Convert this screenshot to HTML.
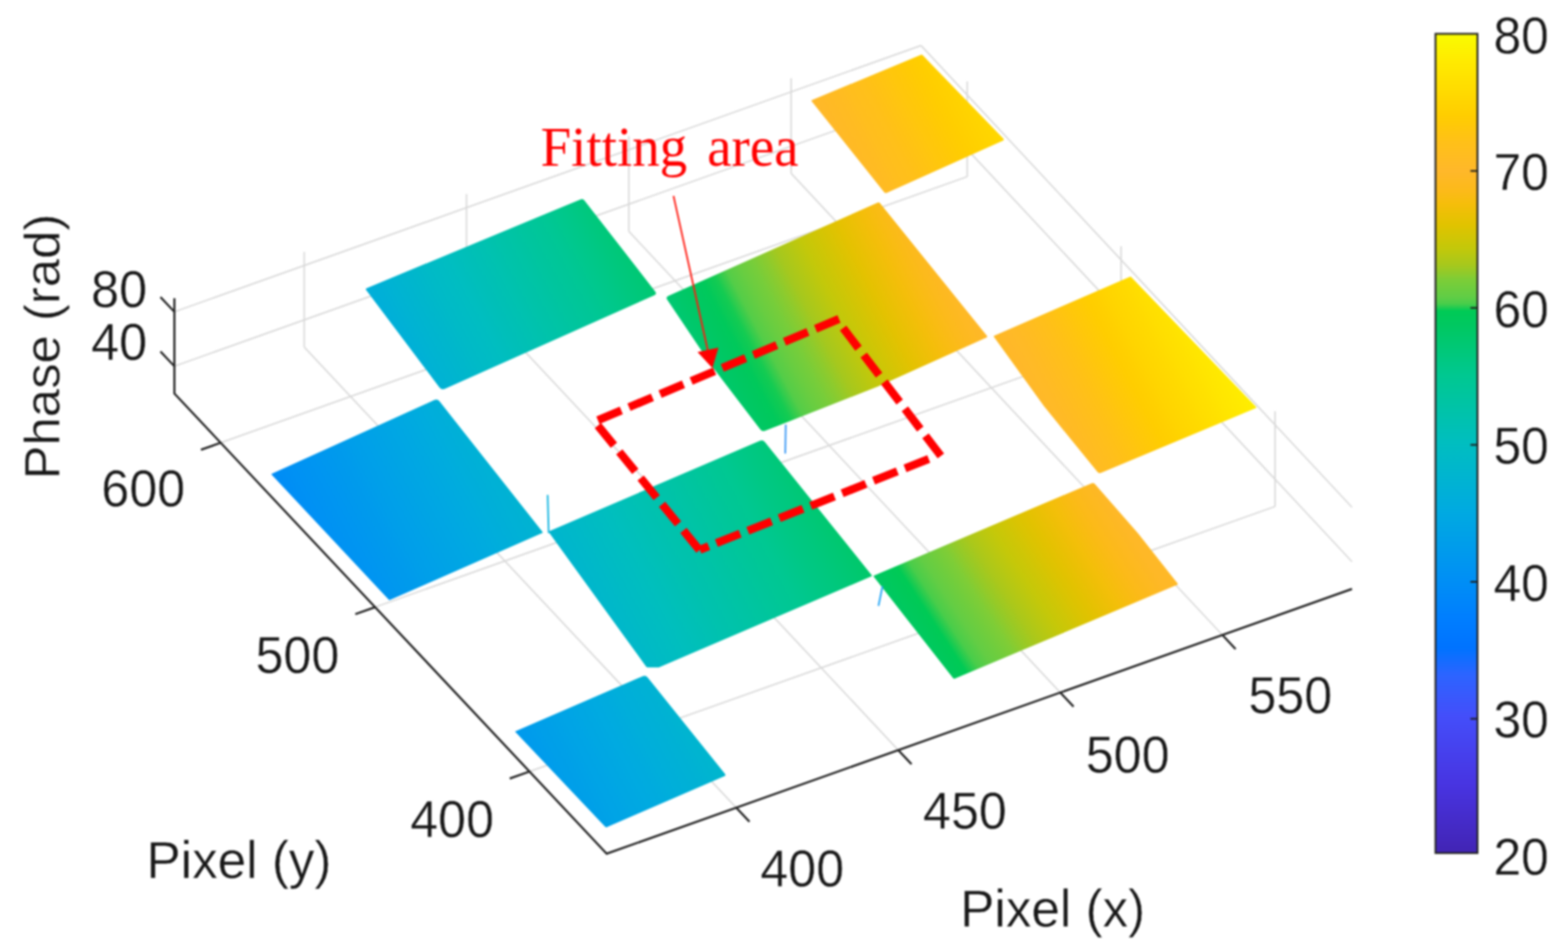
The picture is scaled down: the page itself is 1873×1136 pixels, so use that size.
<!DOCTYPE html>
<html lang="en"><head><meta charset="utf-8"><title>Phase map with fitting area</title>
<style>
html,body{margin:0;padding:0;background:#fff;}
body{width:1873px;height:1136px;overflow:hidden;}
svg{display:block;filter:blur(1px);}
.g{stroke:#d9d9d9;stroke-width:1.8;fill:none;}
.ax{stroke:#222222;stroke-width:2.5;fill:none;stroke-linecap:butt;}
.t{font-family:"Liberation Sans",Arial,Helvetica,sans-serif;font-size:60px;fill:#181818;stroke:#ffffff;stroke-width:0.45px;}
.fa{font-family:"Liberation Serif","Times New Roman",serif;font-size:65.6px;fill:#ff0000;}
</style></head><body>
<svg width="1873" height="1136" viewBox="0 0 1873 1136">
<defs>
<linearGradient id="p1" gradientUnits="userSpaceOnUse" x1="968.75" y1="120" x2="1130.488" y2="34.837">
<stop offset="0" stop-color="#ffb82a"/>
<stop offset="0.05" stop-color="#ffb928"/>
<stop offset="0.1" stop-color="#ffba25"/>
<stop offset="0.15" stop-color="#ffbb23"/>
<stop offset="0.2" stop-color="#ffbc21"/>
<stop offset="0.25" stop-color="#ffbe1e"/>
<stop offset="0.3" stop-color="#ffbf1c"/>
<stop offset="0.35" stop-color="#ffc01a"/>
<stop offset="0.4" stop-color="#ffc116"/>
<stop offset="0.45" stop-color="#ffc313"/>
<stop offset="0.5" stop-color="#ffc510"/>
<stop offset="0.55" stop-color="#ffc70c"/>
<stop offset="0.6" stop-color="#ffc809"/>
<stop offset="0.65" stop-color="#ffca05"/>
<stop offset="0.7" stop-color="#ffcc02"/>
<stop offset="0.75" stop-color="#ffce00"/>
<stop offset="0.8" stop-color="#ffd000"/>
<stop offset="0.85" stop-color="#ffd200"/>
<stop offset="0.9" stop-color="#ffd400"/>
<stop offset="0.95" stop-color="#ffd600"/>
<stop offset="1" stop-color="#ffd800"/>
</linearGradient>
<linearGradient id="p2" gradientUnits="userSpaceOnUse" x1="436.25" y1="345" x2="706.822" y2="202.529">
<stop offset="0" stop-color="#00aeda"/>
<stop offset="0.05" stop-color="#00b0d7"/>
<stop offset="0.1" stop-color="#00b3d3"/>
<stop offset="0.15" stop-color="#00b5cf"/>
<stop offset="0.2" stop-color="#00b7cb"/>
<stop offset="0.25" stop-color="#00bac7"/>
<stop offset="0.3" stop-color="#00bcc4"/>
<stop offset="0.35" stop-color="#00bec0"/>
<stop offset="0.4" stop-color="#00bfba"/>
<stop offset="0.45" stop-color="#00c0b5"/>
<stop offset="0.5" stop-color="#00c2b0"/>
<stop offset="0.55" stop-color="#00c3aa"/>
<stop offset="0.6" stop-color="#00c4a5"/>
<stop offset="0.65" stop-color="#00c59f"/>
<stop offset="0.7" stop-color="#00c69a"/>
<stop offset="0.75" stop-color="#00c795"/>
<stop offset="0.8" stop-color="#00c88e"/>
<stop offset="0.85" stop-color="#00c887"/>
<stop offset="0.9" stop-color="#00c87f"/>
<stop offset="0.95" stop-color="#00c878"/>
<stop offset="1" stop-color="#00c870"/>
</linearGradient>
<linearGradient id="p3" gradientUnits="userSpaceOnUse" x1="795" y1="355" x2="1076.952" y2="206.537">
<stop offset="0" stop-color="#00c873"/>
<stop offset="0.05" stop-color="#00c86a"/>
<stop offset="0.1" stop-color="#00c862"/>
<stop offset="0.15" stop-color="#00c95b"/>
<stop offset="0.2" stop-color="#14cb52"/>
<stop offset="0.25" stop-color="#54cd48"/>
<stop offset="0.3" stop-color="#68cd41"/>
<stop offset="0.35" stop-color="#77cd3a"/>
<stop offset="0.4" stop-color="#8ccb2e"/>
<stop offset="0.45" stop-color="#a5c81e"/>
<stop offset="0.5" stop-color="#b4c814"/>
<stop offset="0.55" stop-color="#c3c80a"/>
<stop offset="0.6" stop-color="#cec606"/>
<stop offset="0.65" stop-color="#d9c403"/>
<stop offset="0.7" stop-color="#e4c201"/>
<stop offset="0.75" stop-color="#ecc006"/>
<stop offset="0.8" stop-color="#f4be0a"/>
<stop offset="0.85" stop-color="#f9bc13"/>
<stop offset="0.9" stop-color="#fcba1c"/>
<stop offset="0.95" stop-color="#feb923"/>
<stop offset="1" stop-color="#ffb82a"/>
</linearGradient>
<linearGradient id="p4" gradientUnits="userSpaceOnUse" x1="1186.6" y1="401.5" x2="1397.898" y2="290.24">
<stop offset="0" stop-color="#feb924"/>
<stop offset="0.05" stop-color="#ffb829"/>
<stop offset="0.1" stop-color="#ffba27"/>
<stop offset="0.15" stop-color="#ffbb23"/>
<stop offset="0.2" stop-color="#ffbd1f"/>
<stop offset="0.25" stop-color="#ffbf1b"/>
<stop offset="0.3" stop-color="#ffc116"/>
<stop offset="0.35" stop-color="#ffc411"/>
<stop offset="0.4" stop-color="#ffc70b"/>
<stop offset="0.45" stop-color="#ffca06"/>
<stop offset="0.5" stop-color="#ffcd00"/>
<stop offset="0.55" stop-color="#ffd000"/>
<stop offset="0.6" stop-color="#ffd400"/>
<stop offset="0.65" stop-color="#ffd700"/>
<stop offset="0.7" stop-color="#ffda00"/>
<stop offset="0.75" stop-color="#ffde00"/>
<stop offset="0.8" stop-color="#ffe100"/>
<stop offset="0.85" stop-color="#ffe500"/>
<stop offset="0.9" stop-color="#ffe800"/>
<stop offset="0.95" stop-color="#ffeb00"/>
<stop offset="1" stop-color="#feef00"/>
</linearGradient>
<linearGradient id="p5" gradientUnits="userSpaceOnUse" x1="323.75" y1="566.25" x2="549.429" y2="447.418">
<stop offset="0" stop-color="#008cf7"/>
<stop offset="0.05" stop-color="#008ef5"/>
<stop offset="0.1" stop-color="#0091f4"/>
<stop offset="0.15" stop-color="#0093f2"/>
<stop offset="0.2" stop-color="#0095f1"/>
<stop offset="0.25" stop-color="#0097ef"/>
<stop offset="0.3" stop-color="#0099ed"/>
<stop offset="0.35" stop-color="#009bec"/>
<stop offset="0.4" stop-color="#009eea"/>
<stop offset="0.45" stop-color="#00a0e9"/>
<stop offset="0.5" stop-color="#00a2e7"/>
<stop offset="0.55" stop-color="#00a4e5"/>
<stop offset="0.6" stop-color="#00a6e4"/>
<stop offset="0.65" stop-color="#00a8e2"/>
<stop offset="0.7" stop-color="#00aae0"/>
<stop offset="0.75" stop-color="#00acde"/>
<stop offset="0.8" stop-color="#00aedb"/>
<stop offset="0.85" stop-color="#00afd8"/>
<stop offset="0.9" stop-color="#00b1d6"/>
<stop offset="0.95" stop-color="#00b2d3"/>
<stop offset="1" stop-color="#00b4d0"/>
</linearGradient>
<linearGradient id="p6" gradientUnits="userSpaceOnUse" x1="655" y1="635" x2="936.25" y2="486.907">
<stop offset="0" stop-color="#00b5cf"/>
<stop offset="0.05" stop-color="#00b7cb"/>
<stop offset="0.1" stop-color="#00b9c8"/>
<stop offset="0.15" stop-color="#00bbc4"/>
<stop offset="0.2" stop-color="#00bdc1"/>
<stop offset="0.25" stop-color="#00bfbd"/>
<stop offset="0.3" stop-color="#00c0b8"/>
<stop offset="0.35" stop-color="#00c1b3"/>
<stop offset="0.4" stop-color="#00c2ae"/>
<stop offset="0.45" stop-color="#00c3aa"/>
<stop offset="0.5" stop-color="#00c4a5"/>
<stop offset="0.55" stop-color="#00c5a0"/>
<stop offset="0.6" stop-color="#00c69b"/>
<stop offset="0.65" stop-color="#00c796"/>
<stop offset="0.7" stop-color="#00c892"/>
<stop offset="0.75" stop-color="#00c88b"/>
<stop offset="0.8" stop-color="#00c884"/>
<stop offset="0.85" stop-color="#00c87e"/>
<stop offset="0.9" stop-color="#00c877"/>
<stop offset="0.95" stop-color="#00c870"/>
<stop offset="1" stop-color="#00c869"/>
</linearGradient>
<linearGradient id="p7" gradientUnits="userSpaceOnUse" x1="1043" y1="688" x2="1293.779" y2="524.11">
<stop offset="0" stop-color="#00c863"/>
<stop offset="0.05" stop-color="#00c95c"/>
<stop offset="0.1" stop-color="#00ca55"/>
<stop offset="0.15" stop-color="#49cd4a"/>
<stop offset="0.2" stop-color="#63cd44"/>
<stop offset="0.25" stop-color="#70cd3d"/>
<stop offset="0.3" stop-color="#7fcd36"/>
<stop offset="0.35" stop-color="#96ca27"/>
<stop offset="0.4" stop-color="#aac81b"/>
<stop offset="0.45" stop-color="#b8c812"/>
<stop offset="0.5" stop-color="#c5c809"/>
<stop offset="0.55" stop-color="#cfc606"/>
<stop offset="0.6" stop-color="#dac402"/>
<stop offset="0.65" stop-color="#e3c201"/>
<stop offset="0.7" stop-color="#ebc005"/>
<stop offset="0.75" stop-color="#f3bf09"/>
<stop offset="0.8" stop-color="#f8bc11"/>
<stop offset="0.85" stop-color="#fcba19"/>
<stop offset="0.9" stop-color="#fdb920"/>
<stop offset="0.95" stop-color="#feb827"/>
<stop offset="1" stop-color="#ffb927"/>
</linearGradient>
<linearGradient id="p8" gradientUnits="userSpaceOnUse" x1="615" y1="873.75" x2="791.113" y2="781.017">
<stop offset="0" stop-color="#009aed"/>
<stop offset="0.05" stop-color="#009bec"/>
<stop offset="0.1" stop-color="#009deb"/>
<stop offset="0.15" stop-color="#009fe9"/>
<stop offset="0.2" stop-color="#00a0e8"/>
<stop offset="0.25" stop-color="#00a2e7"/>
<stop offset="0.3" stop-color="#00a4e6"/>
<stop offset="0.35" stop-color="#00a5e5"/>
<stop offset="0.4" stop-color="#00a7e3"/>
<stop offset="0.45" stop-color="#00a8e2"/>
<stop offset="0.5" stop-color="#00aae1"/>
<stop offset="0.55" stop-color="#00abdf"/>
<stop offset="0.6" stop-color="#00acdd"/>
<stop offset="0.65" stop-color="#00aedb"/>
<stop offset="0.7" stop-color="#00afd9"/>
<stop offset="0.75" stop-color="#00b0d7"/>
<stop offset="0.8" stop-color="#00b1d5"/>
<stop offset="0.85" stop-color="#00b2d3"/>
<stop offset="0.9" stop-color="#00b4d1"/>
<stop offset="0.95" stop-color="#00b5cf"/>
<stop offset="1" stop-color="#00b6cd"/>
</linearGradient>
<linearGradient id="cb" x1="0" y1="1" x2="0" y2="0">
<stop offset="0" stop-color="#4224b4"/>
<stop offset="0.083" stop-color="#4834e1"/>
<stop offset="0.167" stop-color="#444efa"/>
<stop offset="0.217" stop-color="#2d64ff"/>
<stop offset="0.25" stop-color="#0073ff"/>
<stop offset="0.283" stop-color="#007dff"/>
<stop offset="0.333" stop-color="#008ff5"/>
<stop offset="0.417" stop-color="#00aae1"/>
<stop offset="0.5" stop-color="#00bec0"/>
<stop offset="0.583" stop-color="#00c891"/>
<stop offset="0.64" stop-color="#00c864"/>
<stop offset="0.662" stop-color="#00ca55"/>
<stop offset="0.67" stop-color="#46cd4b"/>
<stop offset="0.678" stop-color="#5fcd46"/>
<stop offset="0.7" stop-color="#7dcd37"/>
<stop offset="0.717" stop-color="#a5c81e"/>
<stop offset="0.738" stop-color="#c3c80a"/>
<stop offset="0.767" stop-color="#e1c300"/>
<stop offset="0.792" stop-color="#f5be0a"/>
<stop offset="0.808" stop-color="#fcba19"/>
<stop offset="0.833" stop-color="#ffb82a"/>
<stop offset="0.867" stop-color="#ffc019"/>
<stop offset="0.9" stop-color="#ffcd00"/>
<stop offset="0.933" stop-color="#ffdc00"/>
<stop offset="0.967" stop-color="#ffeb00"/>
<stop offset="1" stop-color="#fafc00"/>
</linearGradient>
</defs>
<rect width="1873" height="1136" fill="#ffffff"/>
<g id="grid">
<line class="g" x1="879.535" y1="964.791" x2="363.413" y2="414.678"/>
<line class="g" x1="363.413" y1="414.678" x2="363.413" y2="300.928"/>
<line class="g" x1="1073.078" y1="896.03" x2="557.304" y2="345.526"/>
<line class="g" x1="557.304" y1="345.526" x2="557.304" y2="231.776"/>
<line class="g" x1="1266.622" y1="827.27" x2="751.196" y2="276.374"/>
<line class="g" x1="751.196" y1="276.374" x2="751.196" y2="162.624"/>
<line class="g" x1="1460.165" y1="758.509" x2="945.087" y2="207.222"/>
<line class="g" x1="945.087" y1="207.222" x2="945.087" y2="93.472"/>
<line class="g" x1="632.486" y1="921.621" x2="1523.071" y2="605"/>
<line class="g" x1="1523.071" y1="605" x2="1523.071" y2="491.25"/>
<line class="g" x1="448.057" y1="725.264" x2="1339.214" y2="408"/>
<line class="g" x1="1339.214" y1="408" x2="1339.214" y2="294.25"/>
<line class="g" x1="263.629" y1="528.907" x2="1155.357" y2="211"/>
<line class="g" x1="1155.357" y1="211" x2="1155.357" y2="97.25"/>
<line class="g" x1="208.3" y1="437.5" x2="1100.2" y2="119.4"/>
<line class="g" x1="1100.2" y1="119.4" x2="1615" y2="671"/>
<line class="g" x1="208.3" y1="372.5" x2="1100.2" y2="54.4"/>
<line class="g" x1="1100.2" y1="54.4" x2="1615" y2="606"/>
</g>
<g id="patches">
<path d="M969.578,121.038 Q968.75,120 969.976,119.491 L1099.993,65.522 Q1101.25,65 1102.197,65.978 L1198.515,165.467 Q1200,167 1198.054,167.877 L1059.625,230.292 Q1057.5,231.25 1056.046,229.428 Z" fill="url(#p1)"/>
<path d="M437.413,346.545 Q436.25,345 438.036,344.258 L693.43,238.171 Q696.25,237 698.123,239.412 L782.654,348.23 Q785,351.25 781.508,352.809 L531.866,464.3 Q527.5,466.25 524.625,462.43 Z" fill="url(#p2)"/>
<path d="M796.991,357.96 Q795,355 798.258,353.547 L1047.891,242.191 Q1050,241.25 1051.449,243.047 L1178.78,400.987 Q1180,402.5 1178.228,403.297 L1047.918,461.887 Q1046.608,462.476 1045.272,463.001 L914.011,514.619 Q910.5,516 908.209,513.002 L851.416,438.692 Q850.312,437.249 849.298,435.741 Z" fill="url(#p3)"/>
<path d="M1187.327,402.507 Q1186.6,401.5 1187.739,401.005 L1349.962,330.477 Q1350.6,330.2 1351.082,330.701 L1500.388,485.947 Q1501.4,487 1500.052,487.563 L1315.359,564.747 Q1312.6,565.9 1310.713,563.581 L1248.316,486.873 Q1247.219,485.525 1246.202,484.115 Z" fill="url(#p4)"/>
<path d="M324.705,567.269 Q323.75,566.25 325.022,565.674 L518.936,477.864 Q522.5,476.25 524.924,479.321 L647.949,635.235 Q648.75,636.25 647.567,636.77 L465.648,716.715 Q465,717 464.516,716.483 Z" fill="url(#p5)"/>
<path d="M655.733,636.012 Q655,635 656.149,634.507 L907.756,526.5 Q911.25,525 913.629,527.966 L1041.176,686.973 Q1042,688 1040.79,688.518 L787.566,796.958 Q787,797.2 786.385,797.2 L774.031,797.2 Q772.5,797.2 771.602,795.96 Z" fill="url(#p6)"/>
<path d="M1043.804,689.027 Q1043,688 1044.2,687.49 L1303.584,577.382 Q1306.25,576.25 1308.157,578.429 L1357.415,634.706 Q1358.413,635.846 1359.352,637.036 L1406.686,696.97 Q1407.5,698 1406.29,698.511 L1140.81,810.605 Q1139.4,811.2 1138.457,809.995 Z" fill="url(#p7)"/>
<path d="M615.984,874.788 Q615,873.75 616.313,873.183 L767.751,807.761 Q771.25,806.25 773.635,809.223 L865.86,924.205 Q867.5,926.25 865.094,927.292 L725.034,987.944 Q723.75,988.5 722.788,987.484 Z" fill="url(#p8)"/>
</g>
<g fill="none" stroke-width="2" stroke-linecap="round">
<path d="M654.2,592 L655.4,636" stroke="#10b4e0"/>
<path d="M938.6,508 L938,541" stroke="#3a98f5"/>
<path d="M1054,701 L1049.5,723" stroke="#20a4f5"/>
</g>
<g id="axes">
<path class="ax" d="M208.3,356.25 L208.3,470 L724.7,1019.8 L1615,703.5"/>
<line class="ax" x1="879.535" y1="964.791" x2="895.303" y2="981.58"/>
<line class="ax" x1="1073.078" y1="896.03" x2="1088.847" y2="912.819"/>
<line class="ax" x1="1266.622" y1="827.27" x2="1282.39" y2="844.058"/>
<line class="ax" x1="1460.165" y1="758.509" x2="1475.934" y2="775.297"/>
<line class="ax" x1="632.486" y1="921.621" x2="608.873" y2="930.01"/>
<line class="ax" x1="448.057" y1="725.264" x2="424.445" y2="733.653"/>
<line class="ax" x1="263.629" y1="528.907" x2="240.016" y2="537.296"/>
<line class="ax" x1="208.3" y1="437.5" x2="191.701" y2="419.828"/>
<line class="ax" x1="208.3" y1="372.5" x2="191.701" y2="354.828"/>
</g>
<g id="fit">
<g fill="none" stroke="#ff0000" stroke-width="9.7" stroke-linecap="butt">
<line x1="714.2" y1="502" x2="1002.5" y2="380.8" stroke-dasharray="30.3 10"/>
<line x1="1007.1" y1="391.9" x2="1125.4" y2="546.6" stroke-dasharray="30.3 10.2"/>
<line x1="1109.4" y1="548.2" x2="836" y2="656.7" stroke-dasharray="30.5 9.9"/>
<line x1="714.2" y1="508.4" x2="835.5" y2="657.1" stroke-dasharray="30.3 10.1"/>
</g>
<line x1="804.5" y1="234" x2="846" y2="421" stroke="#ff1a10" stroke-width="2"/>
<polygon points="833.2,420.6 858.2,415.2 851,439.8" fill="#ff0000"/>
<text class="fa" transform="translate(645.8,198) scale(1,1.03)">Fitting <tspan x="198.9">area</tspan></text>
</g>
<g id="labels">
<text class="t" transform="translate(175.8,366.5) scale(1.005,1.037)" text-anchor="end">80</text>
<text class="t" transform="translate(175.8,430.4) scale(1.005,1.037)" text-anchor="end">40</text>
<text class="t" transform="translate(221.2,605.3) scale(1,1.037)" text-anchor="end">600</text>
<text class="t" transform="translate(405.3,804) scale(1,1.037)" text-anchor="end">500</text>
<text class="t" transform="translate(590,999.8) scale(1,1.037)" text-anchor="end">400</text>
<text class="t" transform="translate(958.2,1058.6) scale(1,1.037)" text-anchor="middle">400</text>
<text class="t" transform="translate(1152.6,989.8) scale(1,1.037)" text-anchor="middle">450</text>
<text class="t" transform="translate(1347,922.7) scale(1,1.037)" text-anchor="middle">500</text>
<text class="t" transform="translate(1541.2,851.8) scale(1,1.037)" text-anchor="middle">550</text>
<text class="t" transform="translate(175,1048.6) scale(1.02,1.037)" text-anchor="start">Pixel (y)</text>
<text class="t" transform="translate(1147,1106.8) scale(1.02,1.037)" text-anchor="start">Pixel (x)</text>
<text class="t" transform="translate(71.2,414) rotate(-90) scale(1.013,1.0)" text-anchor="middle">Phase (rad)</text>
</g>
<g id="colorbar">
<rect x="1714.7" y="40.4" width="50.2" height="978.6" fill="url(#cb)" stroke="#242424" stroke-width="2.2"/>
<text class="t" transform="translate(1784,63.7) scale(0.992,1.037)">80</text>
<line x1="1756.5" y1="204.2" x2="1764" y2="204.2" stroke="#1c1c1c" stroke-width="2"/>
<text class="t" transform="translate(1784,227.25) scale(0.992,1.037)">70</text>
<line x1="1756.5" y1="367.8" x2="1764" y2="367.8" stroke="#1c1c1c" stroke-width="2"/>
<text class="t" transform="translate(1784,390.8) scale(0.992,1.037)">60</text>
<line x1="1756.5" y1="531.4" x2="1764" y2="531.4" stroke="#1c1c1c" stroke-width="2"/>
<text class="t" transform="translate(1784,554.35) scale(0.992,1.037)">50</text>
<line x1="1756.5" y1="695" x2="1764" y2="695" stroke="#1c1c1c" stroke-width="2"/>
<text class="t" transform="translate(1784,717.9) scale(0.992,1.037)">40</text>
<line x1="1756.5" y1="858.6" x2="1764" y2="858.6" stroke="#1c1c1c" stroke-width="2"/>
<text class="t" transform="translate(1784,881.45) scale(0.992,1.037)">30</text>
<text class="t" transform="translate(1784,1045) scale(0.992,1.037)">20</text>
</g>
</svg></body></html>
